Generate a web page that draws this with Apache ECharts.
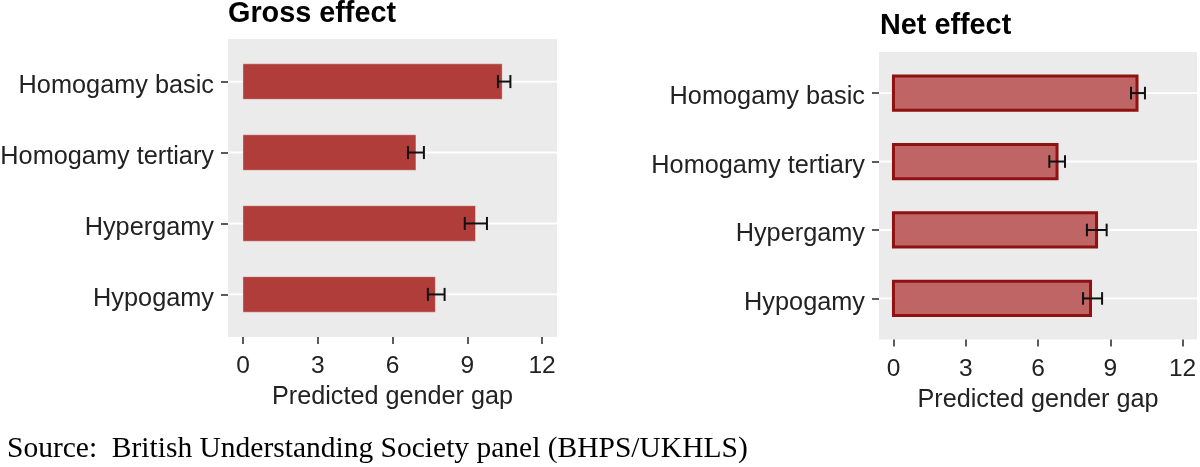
<!DOCTYPE html>
<html>
<head>
<meta charset="utf-8">
<script src="https://cdn.jsdelivr.net/npm/echarts@6/dist/echarts.min.js"></script>
<style>
html,body{margin:0;padding:0;background:#fff;}
#chart{width:1200px;height:467px;}
</style>
</head>
<body>
<div id="chart"></div>
<script>
// ---- data ----
const categories = ['Homogamy basic', 'Homogamy tertiary', 'Hypergamy', 'Hypogamy'];
const grossValues = [10.40, 6.94, 9.33, 7.72];
const grossLow    = [10.23, 6.62, 8.90, 7.42];
const grossHigh   = [10.73, 7.26, 9.79, 8.09];
const netValues   = [10.11, 6.79, 8.43, 8.18];
const netLow      = [9.86, 6.47, 8.03, 7.87];
const netHigh     = [10.44, 7.12, 8.85, 8.66];
const xTicks = [0, 3, 6, 9, 12];
const panelTitles = ['Gross effect', 'Net effect'];
const xAxisTitle = 'Predicted gender gap';
const sourceNote = 'Source:  British Understanding Society panel (BHPS/UKHLS)';

// ---- styling ----
const FONT = "'Liberation Sans', Arial, sans-serif";
const TEXT = '#222';
const catPos = categories.map((c, i) => i + 1);
const LABEL_SHIFT = 0.06; // labels sit slightly below their tick, as in the reference

function makeAxes(gi) {
  const x = {
    type: 'value', gridIndex: gi, min: -0.6, max: 12.6,
    name: xAxisTitle, nameLocation: 'middle', nameGap: 48,
    nameTextStyle: {fontFamily: FONT, fontSize: 25.2, color: TEXT},
    axisLine: {show: false, onZero: false},
    splitLine: {show: false},
    axisTick: {show: true, length: 7, customValues: xTicks, lineStyle: {color: '#333', width: 1.6}},
    axisLabel: {customValues: xTicks, margin: 17, fontFamily: FONT, fontSize: 24.5, color: TEXT}
  };
  const y = {
    type: 'value', gridIndex: gi, min: 0.4, max: 4.6, inverse: true,
    axisLine: {show: false, onZero: false},
    splitLine: {show: false},
    axisTick: {show: true, length: 7, customValues: catPos, lineStyle: {color: '#333', width: 1.6}},
    axisLabel: {customValues: catPos.map(p => p + LABEL_SHIFT), margin: 14, fontFamily: FONT, fontSize: 25.3, color: TEXT,
      formatter: v => categories[Math.round(v) - 1] || ''}
  };
  return [x, y];
}

function gridSeries(gi) {
  return {
    type: 'custom', xAxisIndex: gi, yAxisIndex: gi, silent: true, z: 1,
    data: catPos.map(p => [0, p]),
    encode: {x: 0, y: 1},
    renderItem: (params, api) => {
      const cs = params.coordSys;
      const py = api.coord([0, api.value(1)])[1];
      return {type: 'line', shape: {x1: cs.x, y1: py, x2: cs.x + cs.width, y2: py},
        style: {stroke: '#ffffff', lineWidth: 1.8}};
    }
  };
}

function barSeries(gi, values, style) {
  return {
    type: 'custom', xAxisIndex: gi, yAxisIndex: gi, silent: true, z: 2,
    data: values.map((v, i) => [v, i + 1]),
    encode: {x: 0, y: 1},
    renderItem: (params, api) => {
      const v = api.value(0), p = api.value(1);
      const a = api.coord([0, p - 0.25]);
      const b = api.coord([v, p + 0.25]);
      return {type: 'rect', shape: {x: a[0], y: Math.min(a[1], b[1]), width: b[0] - a[0], height: Math.abs(b[1] - a[1])},
        style: style};
    }
  };
}

function errSeries(gi, lows, highs, cap) {
  return {
    type: 'custom', xAxisIndex: gi, yAxisIndex: gi, silent: true, z: 3,
    data: lows.map((l, i) => [l, highs[i], i + 1]),
    encode: {x: [0, 1], y: 2},
    renderItem: (params, api) => {
      const lo = api.value(0), hi = api.value(1), p = api.value(2);
      const l = api.coord([lo, p]), h = api.coord([hi, p]);
      const t = api.coord([lo, p - cap])[1], bt = api.coord([lo, p + cap])[1];
      const st = {stroke: '#111', lineWidth: 2};
      return {type: 'group', children: [
        {type: 'line', shape: {x1: l[0], y1: l[1], x2: h[0], y2: h[1]}, style: st},
        {type: 'line', shape: {x1: l[0], y1: t, x2: l[0], y2: bt}, style: st},
        {type: 'line', shape: {x1: h[0], y1: t, x2: h[0], y2: bt}, style: st}
      ]};
    }
  };
}

const axL = makeAxes(0), axR = makeAxes(1);

const option = {
  animation: false,
  backgroundColor: '#ffffff',
  title: [
    {text: panelTitles[0], left: 228, top: 0, padding: 0,
     textStyle: {fontFamily: FONT, fontSize: 28.8, fontWeight: 'bold', color: '#000'}},
    {text: panelTitles[1], left: 880, top: 12, padding: 0,
     textStyle: {fontFamily: FONT, fontSize: 28.8, fontWeight: 'bold', color: '#000'}}
  ],
  grid: [
    {left: 228, top: 39, width: 329, height: 298, show: true, backgroundColor: '#ebebeb', borderWidth: 0,
     containLabel: false, outerBoundsMode: 'none'},
    {left: 879, top: 52, width: 318, height: 287.5, show: true, backgroundColor: '#ebebeb', borderWidth: 0,
     containLabel: false, outerBoundsMode: 'none'}
  ],
  xAxis: [axL[0], axR[0]],
  yAxis: [axL[1], axR[1]],
  graphic: [
    {type: 'text', left: 7, top: 434, silent: true,
     style: {text: sourceNote, font: "29.5px 'Liberation Serif', 'Times New Roman', serif", fill: '#000'}}
  ],
  series: [
    gridSeries(0),
    barSeries(0, grossValues, {fill: '#b03d3a', stroke: 'rgba(255,255,255,0.35)', lineWidth: 1}),
    errSeries(0, grossLow, grossHigh, 0.092),
    gridSeries(1),
    barSeries(1, netValues, {fill: '#bf6565', stroke: '#8e1212', lineWidth: 3}),
    errSeries(1, netLow, netHigh, 0.092)
  ]
};

const chart = echarts.init(document.getElementById('chart'), null, {renderer: 'canvas'});
chart.setOption(option);
</script>
</body>
</html>
